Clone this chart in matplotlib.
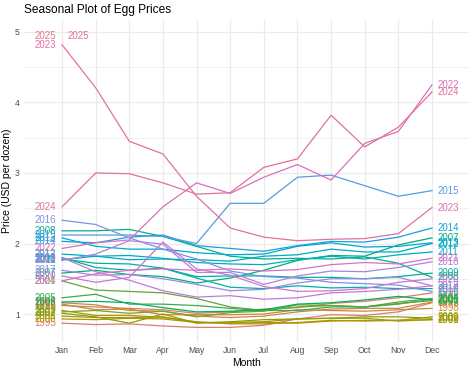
import matplotlib
matplotlib.use('Agg')
import matplotlib.pyplot as plt
import numpy as np

plt.rcParams['font.family'] = ['Liberation Sans', 'DejaVu Sans']

MONTHS = ["Jan", "Feb", "Mar", "Apr", "May", "Jun",
          "Jul", "Aug", "Sep", "Oct", "Nov", "Dec"]

# average price, grade A large eggs, USD per dozen
y1995 = [0.87, 0.85, 0.86, 0.83, 0.81, 0.81, 0.84, 0.93, 0.99, 0.98, 1.03, 1.16]
y1996 = [1.12, 1.10, 1.08, 1.06, 1.01, 1.03, 1.07, 1.09, 1.15, 1.18, 1.23, 1.30]
y1997 = [1.16, 1.13, 1.05, 1.04, 0.97, 0.95, 0.97, 1.03, 1.07, 1.08, 1.08, 1.17]
y1998 = [1.14, 1.06, 1.07, 0.99, 0.99, 0.99, 1.00, 1.06, 1.05, 1.04, 1.06, 1.08]
y1999 = [1.05, 0.98, 0.98, 0.95, 0.89, 0.86, 0.86, 0.88, 0.91, 0.90, 0.91, 0.92]
y2000 = [0.93, 0.92, 0.94, 0.93, 0.88, 0.87, 0.88, 0.87, 0.90, 0.91, 0.91, 0.96]
y2001 = [0.97, 0.95, 0.95, 0.96, 0.88, 0.88, 0.89, 0.93, 0.94, 0.94, 0.90, 0.92]
y2002 = [1.01, 0.96, 0.87, 1.00, 0.87, 0.89, 0.92, 0.93, 0.94, 0.96, 0.96, 0.94]
y2003 = [1.03, 1.05, 1.01, 1.04, 0.96, 1.02, 1.04, 1.13, 1.12, 1.10, 1.15, 1.19]
y2004 = [1.47, 1.34, 1.32, 1.30, 1.22, 1.10, 1.05, 1.10, 1.12, 1.10, 1.17, 1.22]
y2005 = [1.23, 1.28, 1.14, 1.14, 1.12, 1.08, 1.05, 1.05, 1.10, 1.10, 1.14, 1.21]
y2006 = [1.17, 1.18, 1.16, 1.09, 1.03, 1.04, 1.06, 1.14, 1.16, 1.20, 1.25, 1.20]
y2007 = [1.58, 1.62, 1.56, 1.53, 1.44, 1.51, 1.62, 1.76, 1.83, 1.82, 1.98, 2.08]
y2008 = [2.18, 2.18, 2.20, 2.10, 1.96, 1.82, 1.78, 1.79, 1.78, 1.81, 1.72, 1.52]
y2009 = [1.80, 1.66, 1.62, 1.65, 1.53, 1.54, 1.54, 1.52, 1.52, 1.50, 1.53, 1.58]
y2010 = [1.78, 1.72, 1.71, 1.65, 1.51, 1.38, 1.36, 1.40, 1.37, 1.38, 1.36, 1.36]
y2011 = [1.77, 1.82, 1.83, 1.79, 1.73, 1.71, 1.70, 1.77, 1.82, 1.78, 1.84, 1.88]
y2012 = [1.85, 1.82, 1.77, 1.78, 1.77, 1.75, 1.82, 1.84, 1.92, 1.88, 1.88, 2.00]
y2013 = [2.08, 1.96, 1.92, 1.92, 1.87, 1.84, 1.85, 1.96, 2.01, 1.95, 1.96, 2.01]
y2014 = [2.03, 2.01, 2.09, 2.12, 1.97, 1.93, 1.89, 1.97, 2.03, 2.02, 2.09, 2.22]
y2015 = [2.12, 2.12, 2.12, 2.10, 2.00, 2.57, 2.57, 2.94, 2.97, 2.82, 2.67, 2.75]
y2016 = [2.33, 2.27, 2.08, 1.92, 1.78, 1.61, 1.53, 1.51, 1.45, 1.43, 1.41, 1.32]
y2017 = [1.62, 1.55, 1.56, 1.50, 1.42, 1.33, 1.35, 1.44, 1.50, 1.50, 1.52, 1.40]
y2018 = [1.76, 1.85, 2.04, 1.99, 1.59, 1.59, 1.42, 1.54, 1.61, 1.60, 1.66, 1.74]
y2019 = [1.80, 1.60, 1.48, 1.33, 1.24, 1.26, 1.21, 1.23, 1.30, 1.32, 1.35, 1.40]
y2020 = [1.54, 1.45, 1.52, 2.02, 1.64, 1.55, 1.39, 1.32, 1.33, 1.36, 1.45, 1.50]
y2021 = [1.47, 1.57, 1.62, 1.64, 1.62, 1.64, 1.61, 1.63, 1.70, 1.73, 1.71, 1.79]
y2022 = [1.93, 2.01, 2.05, 2.52, 2.86, 2.71, 2.94, 3.12, 2.90, 3.42, 3.59, 4.25]
y2023 = [4.82, 4.21, 3.45, 3.27, 2.67, 2.22, 2.09, 2.04, 2.06, 2.07, 2.14, 2.51]
y2024 = [2.52, 3.00, 2.99, 2.86, 2.70, 2.72, 3.08, 3.20, 3.82, 3.37, 3.65, 4.15]
y2025 = [4.95]

years = list(range(1995, 2026))
series = [y1995, y1996, y1997, y1998, y1999, y2000, y2001, y2002, y2003,
          y2004, y2005, y2006, y2007, y2008, y2009, y2010, y2011, y2012,
          y2013, y2014, y2015, y2016, y2017, y2018, y2019, y2020, y2021,
          y2022, y2023, y2024, y2025]


def hcl(h, c=100, l=65):
    # polar LUV -> sRGB, like R's hcl()
    xn, yn, zn = 95.047, 100.0, 108.883
    hr = np.deg2rad(h)
    u, v = c * np.cos(hr), c * np.sin(hr)
    Y = yn * ((l + 16) / 116) ** 3
    un = 4 * xn / (xn + 15 * yn + 3 * zn)
    vn = 9 * yn / (xn + 15 * yn + 3 * zn)
    up = u / (13 * l) + un
    vp = v / (13 * l) + vn
    X = 9.0 * Y * up / (4 * vp)
    Z = -X / 3 - 5 * Y + 3 * Y / vp
    xyz = np.array([X, Y, Z]) / 100
    m = np.array([[3.240479, -1.537150, -0.498535],
                  [-0.969256, 1.875992, 0.041556],
                  [0.055648, -0.204043, 1.057311]])
    rgb = m @ xyz
    rgb = np.where(rgb > 0.0031308, 1.055 * np.abs(rgb) ** (1 / 2.4) - 0.055, 12.92 * rgb)
    return tuple(np.clip(rgb, 0, 1))


n = len(years)
# the reference looks softer than the plain ggplot hue palette
colors = [hcl((15 + i * 360 / n) % 360, c=72, l=62) for i in range(n)]

fig = plt.figure(figsize=(4.74, 3.70), dpi=100)
ax = fig.add_axes([24 / 474, 1 - 342 / 370, 445 / 474, 322 / 370])

for yr, vals, col in zip(years, series, colors):
    xs = np.arange(1, len(vals) + 1)
    ax.plot(xs, vals, color=col, lw=0.9, zorder=3)
    ax.annotate(str(yr), (xs[0], vals[0]), xytext=(-4, 0), textcoords="offset points",
                ha="right", va="center", color=col, fontsize=7, zorder=4)
    ax.annotate(str(yr), (xs[-1], vals[-1]), xytext=(4, 0), textcoords="offset points",
                ha="left", va="center", color=col, fontsize=7, zorder=4)

ax.set_xlim(-0.13, 13.1)
ax.set_ylim(0.603, 5.17)
ax.set_xticks(np.arange(1, 13))
ax.set_xticklabels(MONTHS)
ax.set_yticks([1, 2, 3, 4, 5])
ax.set_yticks([1.5, 2.5, 3.5, 4.5], minor=True)
ax.grid(which="major", color="#EBEBEB", lw=0.9, zorder=0)
ax.grid(which="minor", axis="y", color="#EBEBEB", lw=0.5, zorder=0)
ax.tick_params(which="both", length=0, labelsize=6.2, labelcolor="#4D4D4D", pad=3)
for s in ax.spines.values():
    s.set_visible(False)

ax.set_xlabel("Month", fontsize=7.5, labelpad=2)
ax.set_ylabel("Price (USD per dozen)", fontsize=7.5, labelpad=2)
ax.set_title("Seasonal Plot of Egg Prices", fontsize=8.6, loc="left", pad=5)

plt.savefig("out.png", dpi=100)
